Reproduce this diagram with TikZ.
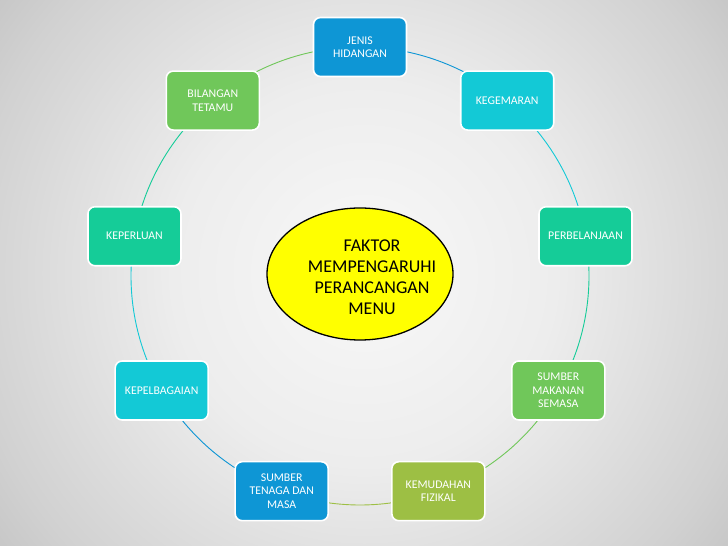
\documentclass[tikz,border=0pt]{standalone}
\usepackage{fontspec}
\setmainfont{Carlito}
\usetikzlibrary{shapes.geometric}
\definecolor{bgA}{HTML}{F8F8F8}
\definecolor{bgB}{HTML}{EDEDED}
\definecolor{bgC}{HTML}{D1D1D1}
\definecolor{bgD}{HTML}{B8B8B8}
\definecolor{bgE}{HTML}{9D9D9D}
\definecolor{bgF}{HTML}{838383}
\definecolor{cblue}{HTML}{0E96D5}
\definecolor{ccyan}{HTML}{13C9D6}
\definecolor{cteal}{HTML}{15CC98}
\definecolor{cgreen}{HTML}{70C75A}
\definecolor{colive}{HTML}{9DBF44}
\definecolor{cyell}{HTML}{FFFF00}
\pgfdeclareradialshading{bgshade}{\pgfpoint{0bp}{0bp}}{color(0bp)=(bgA); color(12bp)=(bgB); color(25bp)=(bgC); color(34bp)=(bgD); color(45bp)=(bgE); color(57bp)=(bgF); color(70bp)=(bgF)}
\begin{document}
\begin{tikzpicture}[x=1pt,y=1pt,
  box/.style={draw=white, line width=1.6pt, rounded corners=7pt, minimum width=93pt, minimum height=59pt, inner sep=2pt, text=white, align=center, font=\fontsize{11.8}{13.5}\selectfont},
  ring/.style={line width=0.9pt}]
\useasboundingbox (0,0) rectangle (728,546);
\begin{scope}
  \clip (0,0) rectangle (728,546);
  \shade[shading=bgshade] (-36,-127) rectangle (764,673);
\end{scope}
\coordinate (C) at (360,270);
\path (C) ++(90:229pt) coordinate (p1);
\path (C) ++(50:229pt) coordinate (p2);
\path (C) ++(10:229pt) coordinate (p3);
\path (C) ++(-30:229pt) coordinate (p4);
\path (C) ++(-70:229pt) coordinate (p5);
\path (C) ++(-110:229pt) coordinate (p6);
\path (C) ++(-150:229pt) coordinate (p7);
\path (C) ++(170:229pt) coordinate (p8);
\path (C) ++(130:229pt) coordinate (p9);
% ring arcs
\draw[ring, cblue] (p1) arc[start angle=90, end angle=50, radius=229pt];
\draw[ring, ccyan] (p2) arc[start angle=50, end angle=10, radius=229pt];
\draw[ring, cteal] (p3) arc[start angle=10, end angle=-30, radius=229pt];
\draw[ring, cgreen] (p4) arc[start angle=-30, end angle=-70, radius=229pt];
\draw[ring, colive] (p5) arc[start angle=-70, end angle=-110, radius=229pt];
\draw[ring, cblue] (p6) arc[start angle=-110, end angle=-150, radius=229pt];
\draw[ring, ccyan] (p7) arc[start angle=-150, end angle=-190, radius=229pt];
\draw[ring, cteal] (p8) arc[start angle=170, end angle=130, radius=229pt];
\draw[ring, cgreen] (p9) arc[start angle=130, end angle=90, radius=229pt];
% boxes
\node[box, fill=cblue] (jenis) at (p1) {JENIS\\HIDANGAN};
\node[box, fill=ccyan] (kegemaran) at (p2) {KEGEMARAN};
\node[box, fill=cteal] (belanja) at (p3) {PERBELANJAAN};
\node[box, fill=cgreen] (makanan) at (p4) {SUMBER\\MAKANAN\\SEMASA};
\node[box, fill=colive] (kemudahan) at (p5) {KEMUDAHAN\\FIZIKAL};
\node[box, fill=cblue] (tenaga) at (p6) {SUMBER\\TENAGA DAN\\MASA};
\node[box, fill=ccyan] (pelbagai) at (p7) {KEPELBAGAIAN};
\node[box, fill=cteal] (perlu) at (p8) {KEPERLUAN};
\node[box, fill=cgreen] (bilangan) at (p9) {BILANGAN\\TETAMU};
% centre
\node[ellipse, draw=black, line width=1.3pt, fill=cyell, minimum width=186pt, minimum height=132pt, inner sep=0pt] (core) at (360,272) {};
\node[align=center, text=black, font=\fontsize{18}{21}\selectfont] (coretext) at (372,269) {FAKTOR\\MEMPENGARUHI\\PERANCANGAN\\MENU};
\end{tikzpicture}
\end{document}
